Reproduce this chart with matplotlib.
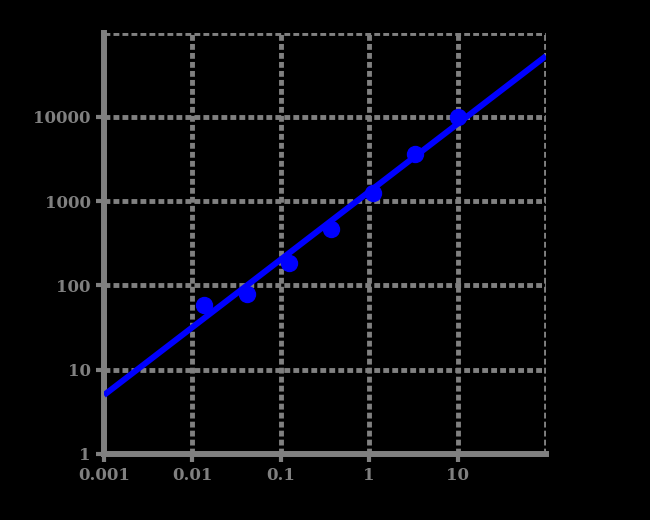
import numpy as np
import matplotlib.pyplot as plt
from matplotlib.ticker import FixedLocator, FixedFormatter, NullLocator

# 数据
conc = [0.0137, 0.041, 0.123, 0.37, 1.11, 3.33, 10]
signal = [59, 80, 183, 464, 1245, 3630, 10000]
fit_x = [0.001, 100]
fit_y = [5.0, 53000]

x_ticks = [0.001, 0.01, 0.1, 1, 10, 100]
x_labels = ['0.001', '0.01', '0.1', '1', '10', '']
y_ticks = [1, 10, 100, 1000, 10000, 100000]
y_labels = ['1', '10', '100', '1000', '10000', '']

grey = '#808080'
blue = '#0000ff'

fig = plt.figure(figsize=(6.5, 5.2), dpi=100, facecolor='black')
ax = fig.add_axes([0.16, 0.127, 0.68, 0.81])
ax.set_facecolor('black')

ax.set_xscale('log')
ax.set_yscale('log')
ax.set_xlim(0.001, 100)
ax.set_ylim(1, 100000)

ax.plot(fit_x, fit_y, color=blue, linewidth=4.3, solid_capstyle='butt', zorder=3)
ax.plot(conc, signal, 'o', color=blue, markersize=11.5, zorder=4)

ax.xaxis.set_major_locator(FixedLocator(x_ticks))
ax.xaxis.set_major_formatter(FixedFormatter(x_labels))
ax.yaxis.set_major_locator(FixedLocator(y_ticks))
ax.yaxis.set_major_formatter(FixedFormatter(y_labels))
ax.xaxis.set_minor_locator(NullLocator())
ax.yaxis.set_minor_locator(NullLocator())

ax.grid(True, color=grey, linestyle=(0, (1.2, 0.65)), linewidth=3.5, zorder=1)
ax.set_axisbelow(True)

for s in ['top', 'right']:
    ax.spines[s].set_visible(False)
for s in ['left', 'bottom']:
    ax.spines[s].set_color(grey)
    ax.spines[s].set_linewidth(4.3)

ax.tick_params(colors=grey, width=3, length=6, direction='out', labelsize=12)
# 末端不画刻度线
ax.xaxis.get_major_ticks()[-1].tick1line.set_visible(False)
ax.yaxis.get_major_ticks()[-1].tick1line.set_visible(False)
for lab in ax.get_xticklabels() + ax.get_yticklabels():
    lab.set_fontfamily('DejaVu Serif')
    lab.set_fontweight('bold')

plt.savefig('out.png', dpi=100, facecolor='black')
